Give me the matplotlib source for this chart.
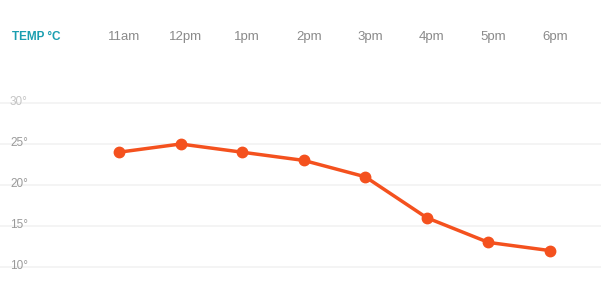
import matplotlib.pyplot as plt
import numpy as np

hours = ['11am', '12pm', '1pm', '2pm', '3pm', '4pm', '5pm', '6pm']
temps = [24, 25, 24, 23, 21, 16, 13, 12]
yticks = [10, 15, 20, 25, 30]

fig = plt.figure(figsize=(6.01, 2.95), dpi=100)
ax = fig.add_axes([0, 0, 1, 1])

x = np.arange(len(hours))
px = 61.57  # pixels per hour
py = 8.2    # pixels per degree
ax.set_xlim(-119 / px, (601 - 119) / px)
ax.set_ylim(10 - (295 - 267) / py, 30 + 103 / py)
ax.axis('off')

# grille horizontale
for t in yticks:
    ax.axhline(t, color='#f2f2f2', lw=1.2, zorder=0)
    ax.text(10 / px - 119 / px, t + 0.15, f'{t}°', color='#9a9a9a' if t < 30 else '#c4c4c4',
            fontsize=8.5, ha='left', va='center', family='Arial' if False else 'Liberation Sans')

ax.plot(x, temps, color='#f4511e', lw=2.5, marker='o', ms=7.5, zorder=3,
        solid_capstyle='round')

# en-tete
yh = 30 + (103 - 37) / py
ax.text(12 / px - 119 / px, yh, 'TEMP °C', color='#1a9eb0', fontsize=8.5,
        fontweight='bold', ha='left', va='center', family='Liberation Sans')
for i, h in enumerate(hours):
    ax.text(i + 5 / px, yh, h, color='#8a8a8a', fontsize=9.5, ha='center',
            va='center', family='Liberation Sans')

fig.savefig('out.png', dpi=100)
